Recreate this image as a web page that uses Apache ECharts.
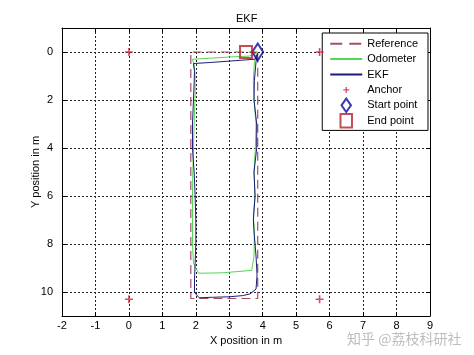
<!DOCTYPE html>
<html><head><meta charset="utf-8">
<script src="https://cdn.jsdelivr.net/npm/echarts@6/dist/echarts.min.js"></script>
<style>html,body{margin:0;padding:0;background:#fff}#c{width:474px;height:355px}</style>
</head><body><div id="c"></div>
<script>
const yTicks = [0, 2, 4, 6, 8, 10];

const referenceX = [3.85, 1.85, 1.85, 3.85, 3.85];
const referenceY = [0, 0, 10.27, 10.27, 0];

const odometerX = [3.85, 3.6, 3.0, 2.4, 1.9, 1.95, 1.98, 1.98, 1.95, 1.93, 1.91, 1.9, 1.9, 1.9, 1.93, 2.08, 2.8, 3.67, 3.74, 3.75, 3.72, 3.77, 3.74, 3.78, 3.8, 3.74, 3.72, 3.75, 3.85];
const odometerY = [0.02, 0.17, 0.21, 0.26, 0.3, 0.55, 1.0, 1.8, 3.0, 4.0, 5.0, 6.0, 7.0, 8.0, 8.8, 9.22, 9.2, 9.1, 8.5, 7.5, 6.8, 6.0, 5.0, 4.0, 3.0, 2.0, 1.2, 0.4, 0.05];

const ekfX = [3.85, 3.77, 3.0, 2.4, 1.93, 1.96, 1.95, 1.93, 1.9, 1.9, 1.95, 1.98, 2.0, 2.0, 1.98, 1.96, 1.96, 2.1, 2.5, 3.0, 3.4, 3.62, 3.8, 3.83, 3.8, 3.74, 3.72, 3.77, 3.74, 3.82, 3.82, 3.74, 3.75, 3.8, 3.85];
const ekfY = [0.05, 0.3, 0.38, 0.44, 0.48, 0.8, 1.3, 2.0, 3.0, 4.0, 5.0, 6.0, 7.0, 8.0, 8.8, 9.5, 10.02, 10.24, 10.22, 10.2, 10.15, 10.08, 9.88, 9.3, 8.5, 7.5, 7.0, 6.0, 5.0, 4.0, 3.0, 2.0, 1.2, 0.4, 0.05];

const anchorX = [0, 5.7, 0, 5.7];
const anchorY = [0, 0, 10.3, 10.3];

const startX = [3.85];
const startY = [0];
const endX = [3.5];
const endY = [0];

const pairs = (xs, ys) => xs.map((x, i) => [x, ys[i]]);

const FONT = 'Liberation Sans';
const grid = { color: '#222', type: [2, 2], width: 1 };
const axisLineS = { show: true, onZero: false, lineStyle: { color: '#000', width: 1 } };
const tickS = { show: true, inside: true, length: 4, lineStyle: { color: '#000' } };
const hideSym = { opacity: 0 };

const chart = echarts.init(document.getElementById('c'), null, { renderer: 'canvas' });
chart.setOption({
  backgroundColor: '#fff',
  animation: false,
  textStyle: { fontFamily: FONT },
  title: {
    text: 'EKF', left: 231, top: 8,
    textStyle: { fontFamily: FONT, fontSize: 11, fontWeight: 'normal', color: '#000' }
  },
  grid: { left: 62, right: 44, top: 28, bottom: 39, containLabel: false },
  legend: {
    orient: 'vertical', right: 46, top: 33,
    padding: [3, 10, 2, 7],
    itemGap: 0, itemWidth: 32, itemHeight: 13.4,
    backgroundColor: '#fff', borderColor: '#000', borderWidth: 1,
    textStyle: { fontFamily: FONT, fontSize: 11, color: '#000', lineHeight: 15.4 },
    data: [
      { name: 'Reference', itemStyle: hideSym, lineStyle: { type: [12, 7] } },
      { name: 'Odometer', itemStyle: hideSym },
      { name: 'EKF', itemStyle: hideSym },
      { name: 'Anchor', icon: 'path://M0,0M20,20M9,5.5H11V9H14.5V11H11V14.5H9V11H5.5V9H9Z' },
      { name: 'Start point', icon: 'path://M6,0L12,8.5L6,17L0,8.5Z' },
      { name: 'End point', icon: 'path://M0,0H12V14H0Z' }
    ]
  },
  xAxis: [{
    type: 'value', min: -2, max: 9, interval: 1, position: 'bottom',
    name: 'X position in m', nameLocation: 'middle', nameGap: 18,
    nameTextStyle: { fontFamily: FONT, fontSize: 11, color: '#000' },
    axisLine: axisLineS, axisTick: tickS,
    axisLabel: { color: '#000', fontSize: 11, fontFamily: FONT, margin: 4 },
    splitLine: { show: true, lineStyle: grid }
  }, {
    type: 'value', min: -2, max: 9, interval: 1, position: 'top',
    axisLine: axisLineS, axisTick: tickS, axisLabel: { show: false }, splitLine: { show: false }
  }],
  yAxis: [{
    type: 'value', min: -1, max: 11, inverse: true, position: 'left',
    name: 'Y position in m', nameLocation: 'middle', nameGap: 21, nameRotate: 90,
    nameMoveOverlap: false,
    nameTextStyle: { fontFamily: FONT, fontSize: 11, color: '#000' },
    axisLine: axisLineS,
    axisTick: Object.assign({}, tickS, { customValues: yTicks }),
    axisLabel: { color: '#000', fontSize: 11, fontFamily: FONT, margin: 9, customValues: yTicks },
    splitLine: { show: true, lineStyle: grid }
  }, {
    type: 'value', min: -1, max: 11, inverse: true, position: 'right',
    axisLine: axisLineS,
    axisTick: Object.assign({}, tickS, { customValues: yTicks }),
    axisLabel: { show: false, customValues: yTicks }, splitLine: { show: false }
  }],
  series: [{
    name: 'Reference', type: 'line', data: pairs(referenceX, referenceY),
    showSymbol: false, symbol: 'none', z: 2,
    lineStyle: { color: '#a8505e', width: 1.2, type: [9, 5] },
    itemStyle: { color: '#a8505e' }
  }, {
    name: 'Odometer', type: 'line', data: pairs(odometerX, odometerY),
    showSymbol: false, symbol: 'none', z: 3,
    lineStyle: { color: '#55d655', width: 1 }, itemStyle: { color: '#55d655' }
  }, {
    name: 'EKF', type: 'line', data: pairs(ekfX, ekfY),
    showSymbol: false, symbol: 'none', z: 4,
    lineStyle: { color: '#1c1c78', width: 1 }, itemStyle: { color: '#1c1c78' }
  }, {
    name: 'Anchor', type: 'scatter', data: pairs(anchorX, anchorY), z: 5,
    symbol: 'path://M4,0H6V4H10V6H6V10H4V6H0V4H4Z', symbolSize: 8,
    itemStyle: { color: '#d0203c' }
  }, {
    name: 'Start point', type: 'scatter', data: pairs(startX, startY), z: 6,
    symbol: 'diamond', symbolSize: [11, 17],
    itemStyle: { color: 'rgba(255,255,255,0)', borderColor: '#0a0a9a', borderWidth: 2 }
  }, {
    name: 'End point', type: 'scatter', data: pairs(endX, endY), z: 6,
    symbol: 'rect', symbolSize: [12, 12],
    itemStyle: { color: 'rgba(255,255,255,0)', borderColor: '#b82028', borderWidth: 2 }
  }],
  graphic: [{
    type: 'text', left: 347, top: 332,
    style: { text: '知乎 @荔枝科研社', fontSize: 14, fontFamily: 'Noto Sans CJK SC', fill: '#bdbdbd' }
  }]
});
</script></body></html>
